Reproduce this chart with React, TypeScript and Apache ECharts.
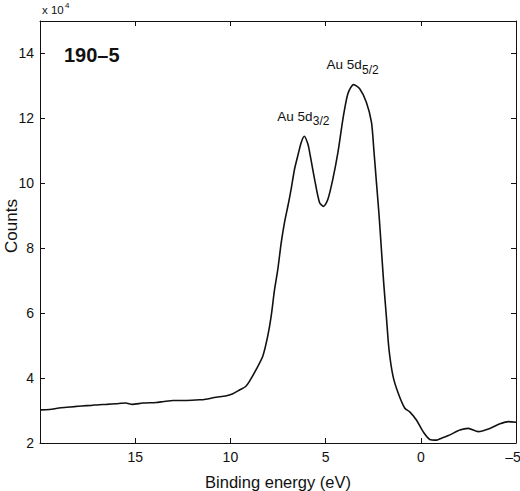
import React, { useEffect, useRef } from "react";
import * as echarts from "echarts";

const energy = [20.0, 19.5, 19.0, 18.6, 18.2, 17.8, 17.3, 16.9, 16.5, 16.0, 15.5, 15.15, 14.6, 13.9, 13.5, 13.0, 12.3, 11.6, 11.3, 10.75, 10.25, 9.9, 9.5, 9.2, 9.0, 8.65, 8.3, 8.04, 7.86, 7.68, 7.51, 7.33, 7.16, 6.98, 6.81, 6.63, 6.46, 6.28, 6.12, 5.93, 5.84, 5.58, 5.32, 5.11, 4.88, 4.62, 4.35, 4.09, 3.83, 3.53, 3.21, 2.86, 2.59, 2.47, 2.33, 2.19, 2.07, 1.95, 1.81, 1.67, 1.46, 1.19, 0.84, 0.58, 0.23, -0.12, -0.47, -0.83, -1.09, -1.53, -2.05, -2.49, -3.02, -3.63, -4.16, -4.6, -5.0];
const counts = [3.02, 3.03, 3.08, 3.10, 3.12, 3.14, 3.16, 3.18, 3.19, 3.21, 3.23, 3.19, 3.23, 3.25, 3.28, 3.31, 3.31, 3.33, 3.35, 3.41, 3.45, 3.51, 3.64, 3.74, 3.9, 4.26, 4.67, 5.29, 5.9, 6.73, 7.35, 8.17, 8.79, 9.3, 9.82, 10.44, 10.85, 11.26, 11.45, 11.21, 10.96, 10.13, 9.41, 9.29, 9.51, 10.13, 10.96, 11.98, 12.76, 13.04, 12.91, 12.5, 11.88, 11.06, 10.03, 9.0, 7.97, 6.94, 5.91, 4.88, 4.06, 3.54, 3.07, 2.96, 2.71, 2.35, 2.11, 2.09, 2.15, 2.25, 2.40, 2.45, 2.35, 2.45, 2.59, 2.66, 2.64];

const sampleLabel = "190\u20135";
const xAxisTitle = "Binding energy (eV)";
const yAxisTitle = "Counts";
const peakLabels = [
  { main: "Au 5d", sub: "3/2", x: 6.12, y: 11.45 },
  { main: "Au 5d", sub: "5/2", x: 3.53, y: 13.04 },
];

const FONT = "'Liberation Sans', Arial, Helvetica, sans-serif";
const INK = "#111";

export default function App() {
  const ref = useRef<HTMLDivElement>(null);
  useEffect(() => {
    const el = ref.current!;
    const chart = echarts.init(el, undefined, { renderer: "svg" });
    const data = energy.map((e, i) => [e, counts[i]]);
    const fmtX = (v: number) =>
      v === 20 ? "" : v < 0 ? "{r|\u2013" + Math.abs(v) + "}" : String(v);
    const axisCommon = {
      axisLine: { show: true, onZero: false, lineStyle: { color: INK, width: 1 } },
      axisTick: { show: true, inside: true, length: 5, lineStyle: { color: INK } },
      splitLine: { show: false },
    };
    chart.setOption({
      animation: false,
      backgroundColor: "#fff",
      grid: { left: 40, right: 4, top: 21, bottom: 48, containLabel: false, outerBoundsMode: "none" },
      xAxis: [
        {
          type: "value", min: -5, max: 20, interval: 5, inverse: true,
          ...axisCommon,
          axisLabel: {
            color: INK, fontSize: 14, fontFamily: FONT, margin: 7, formatter: fmtX,
            rich: { r: { color: INK, fontSize: 14, fontFamily: FONT, padding: [0, 6, 0, 0] } },
          },
          name: xAxisTitle, nameLocation: "middle", nameGap: 30,
          nameTextStyle: { color: INK, fontSize: 16.5, fontFamily: FONT },
        },
        {
          type: "value", min: -5, max: 20, interval: 5, inverse: true, position: "top",
          ...axisCommon, axisLabel: { show: false },
        },
      ],
      yAxis: [
        {
          type: "value", min: 2, max: 15, interval: 2,
          ...axisCommon,
          axisLabel: { color: INK, fontSize: 14, fontFamily: FONT, margin: 6,
            formatter: (v: number) => (v === 15 ? "" : String(v)) },
        },
        {
          type: "value", min: 2, max: 15, interval: 2, position: "right",
          ...axisCommon, axisLabel: { show: false },
        },
      ],
      series: [
        {
          type: "line", data, xAxisIndex: 0, yAxisIndex: 0, showSymbol: false, smooth: 0.25,
          lineStyle: { color: INK, width: 1.6 },
        },
      ],
    });
    const graphics: any[] = [
      { type: "text", left: 42, top: 4, style: { text: "x 10", fontSize: 11.5, fontFamily: FONT, fill: INK } },
      { type: "text", left: 65, top: 1, style: { text: "4", fontSize: 8, fontFamily: FONT, fill: INK } },
      { type: "text", left: 64, top: 45, style: { text: sampleLabel, fontSize: 20, fontWeight: "bold", fontFamily: FONT, fill: INK } },
      {
        type: "text", x: 11, y: 226, rotation: Math.PI / 2,
        style: { text: yAxisTitle, fontSize: 17, fontFamily: FONT, fill: INK, align: "center", verticalAlign: "middle" },
      },
    ];
    peakLabels.forEach((p) => {
      const [px, py] = chart.convertToPixel({ xAxisIndex: 0, yAxisIndex: 0 }, [p.x, p.y]);
      const left = px - 27;
      const base = py - 13;
      graphics.push({ type: "text", x: left, y: base, style: { text: p.main, fontSize: 13.5, fontFamily: FONT, fill: INK, textVerticalAlign: "bottom" } });
      graphics.push({ type: "text", x: left + 35.5, y: base + 4, style: { text: p.sub, fontSize: 12, fontFamily: FONT, fill: INK, textVerticalAlign: "bottom" } });
    });
    chart.setOption({ graphic: graphics });
    return () => chart.dispose();
  }, []);
  return <div ref={ref} style={{ position: "fixed", left: 0, top: 0, width: 520, height: 491, background: "#fff" }} />;
}
